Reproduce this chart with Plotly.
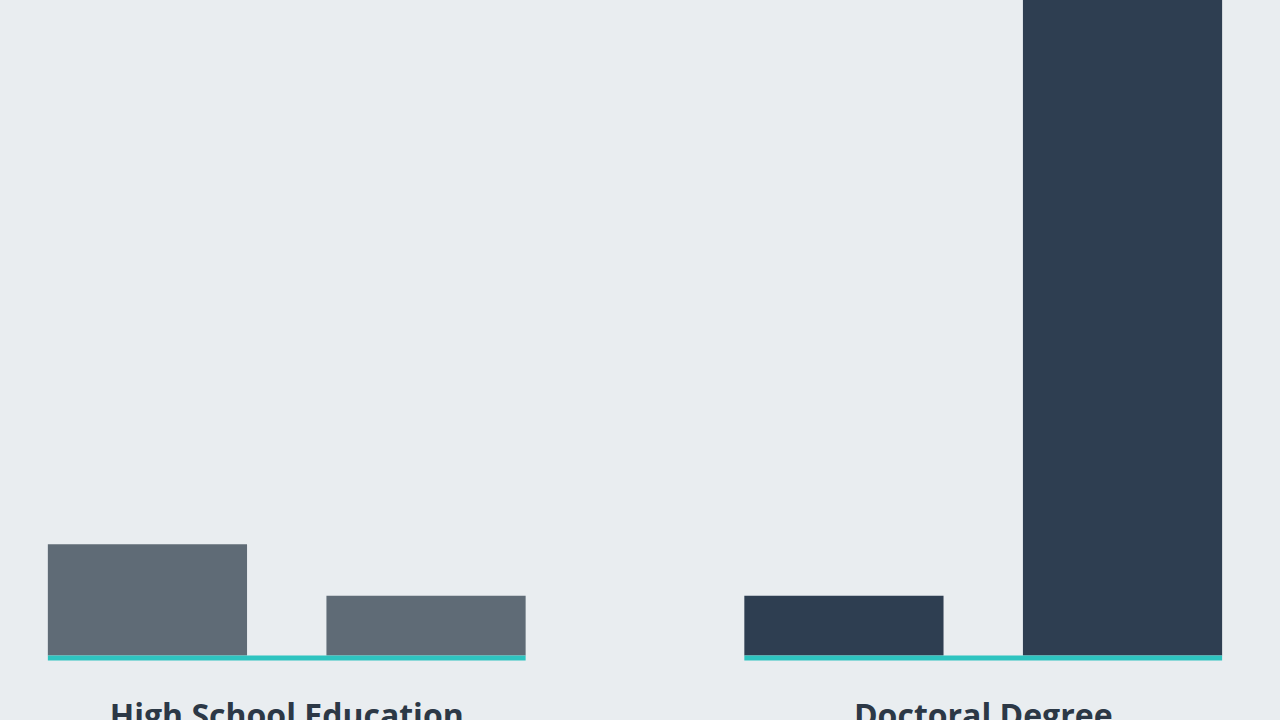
import plotly.graph_objects as go

# data
categories = ["High School Education", "Doctoral Degree"]
series_a = [5.6, 3.0]
series_b = [3.0, 40.0]
category_colors = ["#5f6b76", "#2e3e51"]

fig = go.Figure()
for name, vals in [("Series A", series_a), ("Series B", series_b)]:
    fig.add_trace(
        go.Bar(
            x=categories,
            y=vals,
            name=name,
            marker=dict(color=category_colors, line=dict(width=0)),
            hoverinfo="x+y",
        )
    )

# teal baseline under each group
for i in range(len(categories)):
    fig.add_shape(
        type="rect",
        xref="x",
        yref="y",
        x0=i - 0.343,
        x1=i + 0.343,
        ysizemode="pixel",
        yanchor=0,
        y0=-5,
        y1=0,
        fillcolor="#2ec4c0",
        line=dict(width=0),
        layer="above",
    )

fig.update_layout(
    width=1280,
    height=720,
    barmode="group",
    bargap=0.2,
    bargroupgap=0.285,
    showlegend=False,
    paper_bgcolor="#e9edf0",
    plot_bgcolor="#e9edf0",
    margin=dict(l=0, r=0, t=0, b=59),
    font=dict(family="Open Sans", color="#2c3846"),
)
fig.update_xaxes(
    range=[-0.4117, 1.4261],
    showgrid=False,
    zeroline=False,
    showline=False,
    ticks="",
    tickfont=dict(size=32, weight="bold", color="#2c3846"),
    ticklabelstandoff=33,
    automargin=False,
)
fig.update_yaxes(range=[-0.28, 33], visible=False, showgrid=False, zeroline=False)

fig.write_html(
    "out.html",
    config={"displayModeBar": False},
    post_script="document.body.style.margin='0';document.body.style.overflow='hidden';",
)
